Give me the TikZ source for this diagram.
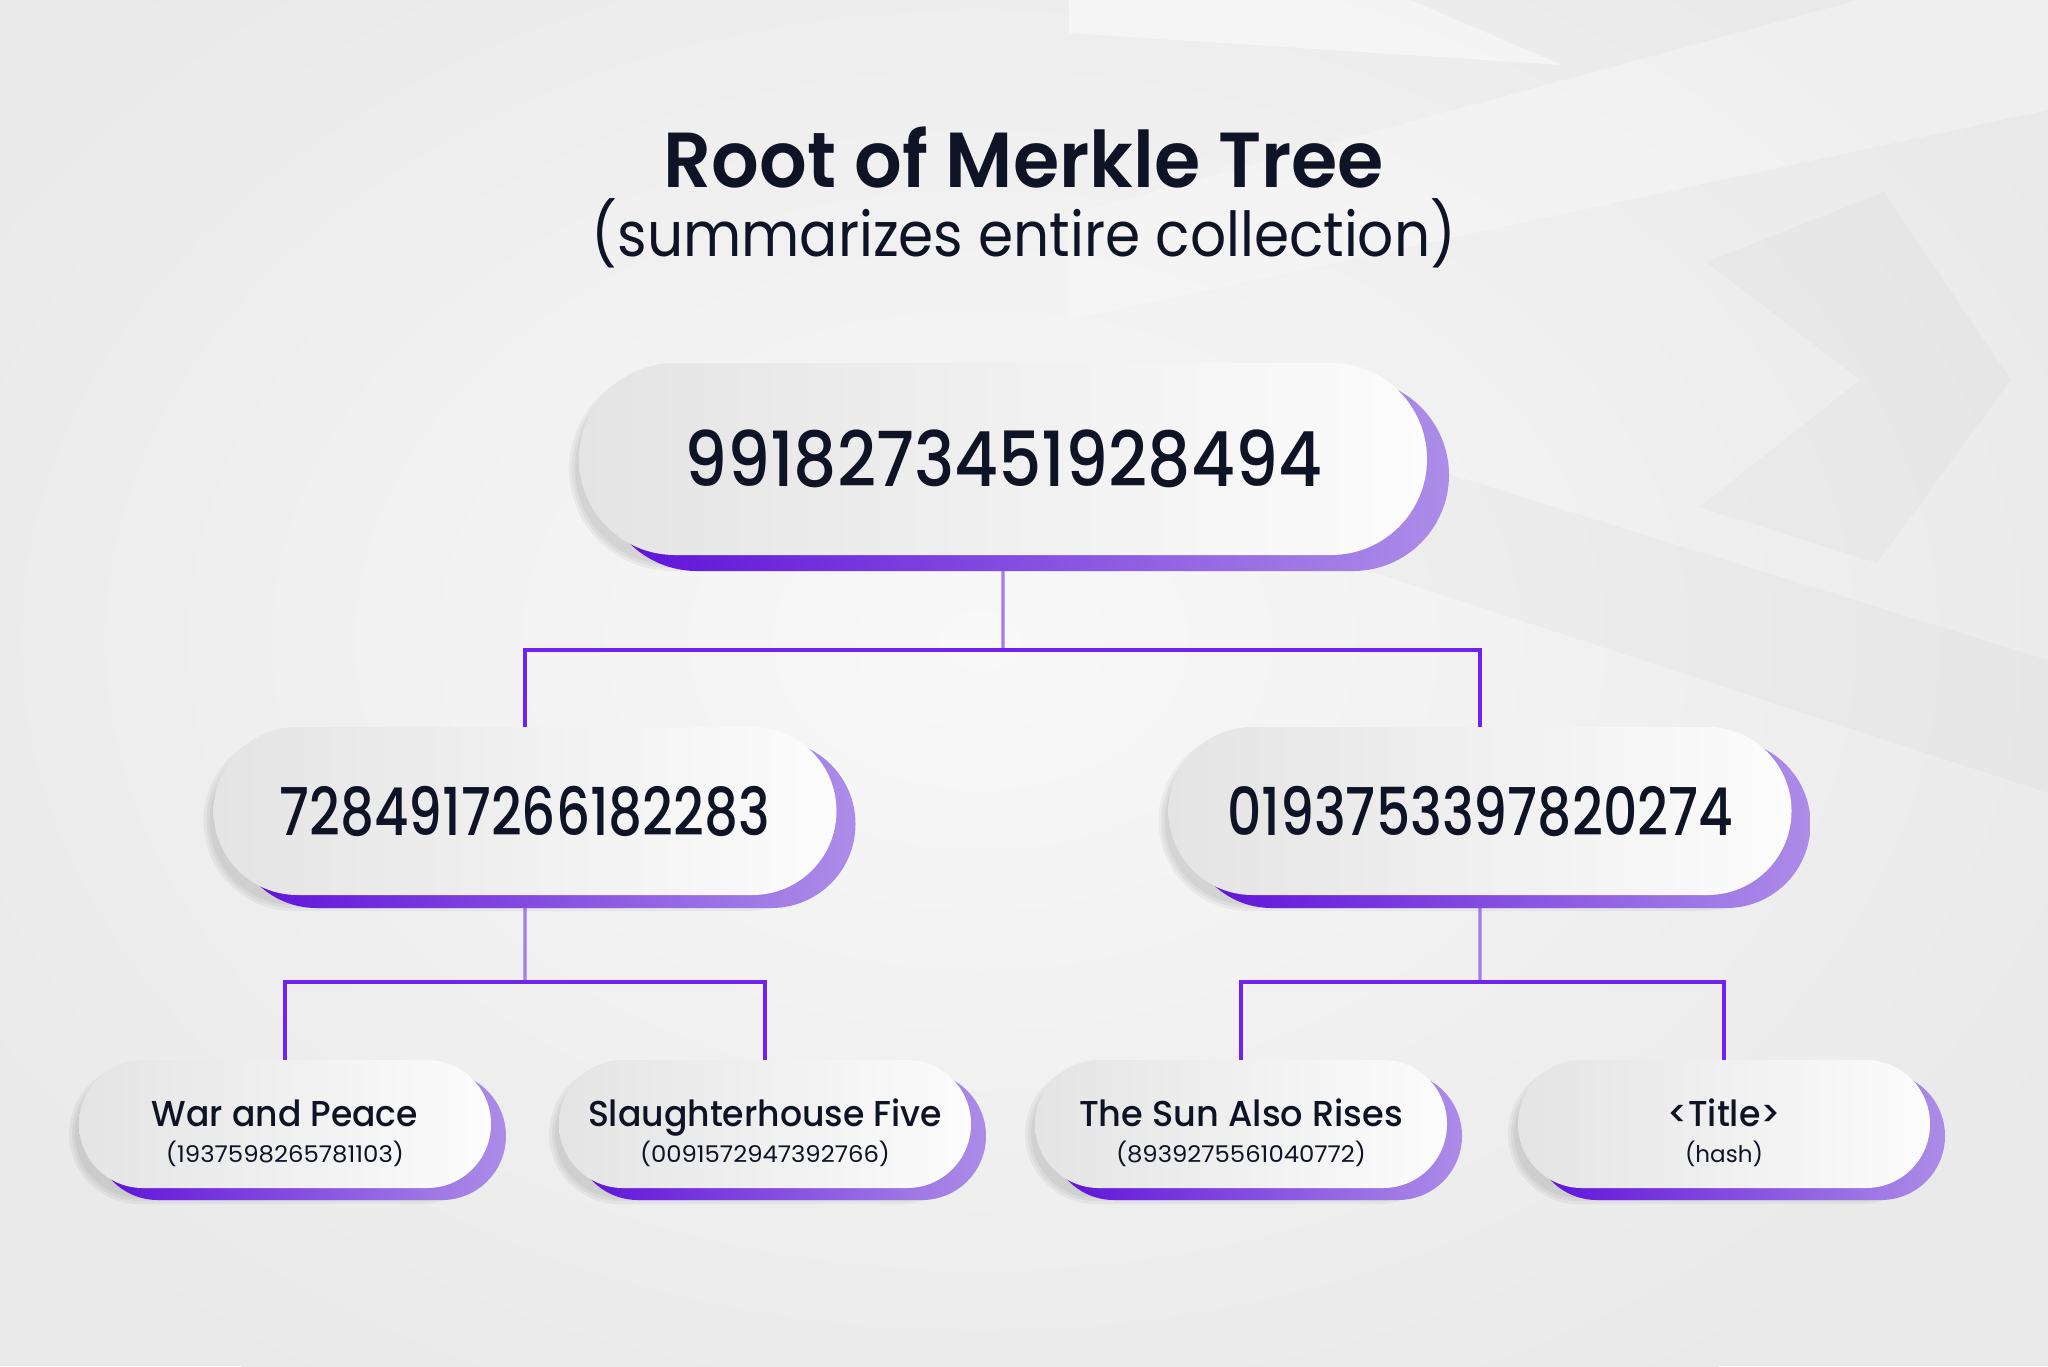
\documentclass[tikz,border=0pt]{standalone}
\usepackage{fontspec}
\setmainfont{Poppins}
\newfontfamily\headfont{Poppins SemiBold}
\newfontfamily\medfont{Poppins Medium}
\usetikzlibrary{shapes.misc,calc}
\definecolor{ink}{HTML}{0E1325}
\definecolor{conn}{HTML}{7022F2}
\definecolor{stem}{HTML}{A47CF0}
\definecolor{pdark}{HTML}{5E10D9}
\definecolor{plight}{HTML}{AC8DE8}
\definecolor{pillL}{HTML}{E4E4E5}
\definecolor{pillR}{HTML}{FCFCFC}
\definecolor{bgin}{HTML}{F8F8F8}
\definecolor{bgout}{HTML}{E9E9E9}
\pgfdeclarelayer{back}
\pgfdeclarelayer{wires}
\pgfdeclarelayer{shade}
\pgfsetlayers{back,wires,shade,main}
\newcommand\fitw[2]{\resizebox{#1}{\height}{#2}}
\begin{document}
\begin{tikzpicture}[x=0.5pt,y=-0.5pt]
\tikzset{
  pill/.style={rounded rectangle, draw=none, left color=pillL, right color=pillR,
    inner sep=0pt, text=ink},
  backing/.style={rounded rectangle, draw=none, left color=pdark, right color=plight, inner sep=0pt},
  softsh/.style={rounded rectangle, draw=none, fill=black, fill opacity=0.045, inner sep=0pt},
  rootsz/.style={minimum width=424pt, minimum height=96pt},
  midsz/.style={minimum width=311.5pt, minimum height=84pt},
  leafsz/.style={minimum width=206pt, minimum height=64pt},
  wire/.style={draw=conn, line width=1.6pt},
  stemw/.style={draw=stem, line width=1.6pt},
  txt/.style={text=ink, inner sep=0pt, anchor=base},
}
\useasboundingbox (0,0) rectangle (2048,1366);
\begin{pgfonlayer}{back}
  \fill[bgout] (0,0) rectangle (2048,1366);
  \shade[inner color=bgin, outer color=bgout] (980,640) ellipse [x radius=1250, y radius=900];
  % faint background chevrons
  \fill[white, opacity=0.45] (1069,0) -- (1069,33) -- (1562,65) -- (1410,0) -- cycle;
  \fill[white, opacity=0.28] (1068,215) -- (1858,0) -- (2048,0) -- (2048,110) -- (1068,320) -- cycle;
  \fill[black, opacity=0.018] (1706,262) -- (1884,192) -- (2011,380) -- (1877,563) -- (1699,507) -- (1860,380) -- cycle;
  \fill[black, opacity=0.018] (1445,473) -- (2048,660) -- (2048,793) -- (1336,560) -- cycle;
\end{pgfonlayer}

% title
\node[txt] (title) at (1024,187) {\fitw{360pt}{\fontsize{39}{39}\selectfont\headfont Root of Merkle Tree}};
\node[txt] (sub) at (1024,256) {\fitw{432pt}{\fontsize{31}{31}\selectfont (summarizes entire collection)}};

% root
\node[backing, rootsz] (rootbk) at (1025,475) {};
\node[pill, rootsz] (root) at (1003,459) {\fitw{319pt}{\fontsize{38}{38}\selectfont\medfont 9918273451928494}};

% middle level
\node[backing, midsz] (midLbk) at (544,824) {};
\node[pill, midsz] (midL) at (525,811) {\fitw{245pt}{\fontsize{33}{33}\selectfont\medfont 7284917266182283}};
\node[backing, midsz] (midRbk) at (1499,824) {};
\node[pill, midsz] (midR) at (1480,811) {\fitw{253pt}{\fontsize{33}{33}\selectfont\medfont 0193753397820274}};

% leaves
\foreach \n/\x in {l1/285, l2/765, l3/1241, l4/1724}{
  \node[backing, leafsz] (\n bk) at (\x+15,1136) {};
  \node[pill, leafsz] (\n) at (\x,1124) {};
}
\node[txt] (l1a) at ($(l1.center)+(0,2)$) {\fitw{133pt}{\fontsize{18}{18}\selectfont\medfont War and Peace}};
\node[txt] (l1b) at ($(l1.center)+(0,38)$) {\fitw{119pt}{\fontsize{11.5}{11.5}\selectfont (1937598265781103)}};
\node[txt] (l2a) at ($(l2.center)+(0,2)$) {\fitw{177pt}{\fontsize{18}{18}\selectfont\medfont Slaughterhouse Five}};
\node[txt] (l2b) at ($(l2.center)+(0,38)$) {\fitw{125pt}{\fontsize{11.5}{11.5}\selectfont (0091572947392766)}};
\node[txt] (l3a) at ($(l3.center)+(0,2)$) {\fitw{162pt}{\fontsize{18}{18}\selectfont\medfont The Sun Also Rises}};
\node[txt] (l3b) at ($(l3.center)+(0,38)$) {\fitw{125pt}{\fontsize{11.5}{11.5}\selectfont (8939275561040772)}};
\node[txt] (l4a) at ($(l4.center)+(0,2)$) {\fitw{57pt}{\fontsize{18}{18}\selectfont\medfont <Title>}};
\node[txt] (l4b) at ($(l4.center)+(0,38)$) {\fitw{39pt}{\fontsize{11.5}{11.5}\selectfont (hash)}};

% soft grey shadows under the white pills
\begin{pgfonlayer}{shade}
  \foreach \n/\w/\h in {root/424/96, midL/311.5/84, midR/311.5/84, l1/206/64, l2/206/64, l3/206/64, l4/206/64}{
    \foreach \g in {0,3,6}{
      \node[softsh, minimum width=\w pt+\g pt, minimum height=\h pt+\g pt] (\n sh\g) at ($(\n.center)+(-4,10)$) {};
    }
  }
\end{pgfonlayer}

% connectors
\begin{pgfonlayer}{wires}
  \coordinate (j0) at (root.center |- 0,650);
  \coordinate (j1) at (midL.center |- 0,982);
  \coordinate (j2) at (midR.center |- 0,982);
  \draw[stemw] (root) -- (j0);
  \draw[wire] (midL) |- (j0) -| (midR);
  \draw[stemw] (midL) -- (j1);
  \draw[wire] (l1) |- (j1) -| (l2);
  \draw[stemw] (midR) -- (j2);
  \draw[wire] (l3) |- (j2) -| (l4);
\end{pgfonlayer}
\end{tikzpicture}
\end{document}
